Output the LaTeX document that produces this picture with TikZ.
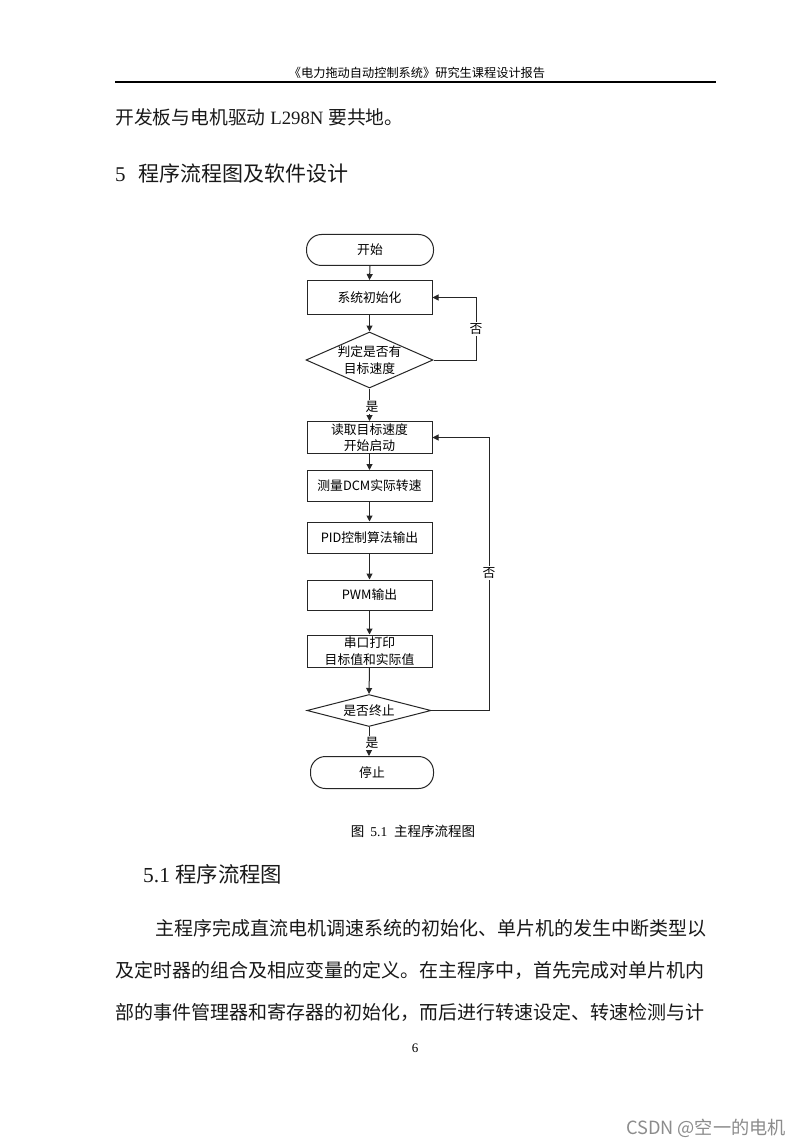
\documentclass[tikz,border=0pt]{standalone}
\usepackage{fontspec}
\setmainfont{Liberation Serif}
\newfontfamily\cjk{Noto Sans CJK SC}
\usetikzlibrary{shapes.geometric,arrows.meta}
\begin{document}
\begin{tikzpicture}[x=1pt,y=-1pt,
  flow/.style={draw=black!85, line width=1pt, font=\cjk\fontsize{12.8}{16.5}\selectfont, inner sep=0pt, align=center},
  box/.style={flow, rectangle, minimum width=125pt},
  term/.style={flow, rectangle, rounded corners=15pt, minimum height=31pt},
  dia/.style={flow, diamond, inner sep=0pt},
  arr/.style={draw=black!85, line width=1pt, -{Triangle[length=6pt,width=6pt]}},
  lbl/.style={font=\cjk\fontsize{12.8}{15}\selectfont, fill=white, inner sep=1pt},
  txt/.style={inner sep=0pt, anchor=west, text=black!90},
]
\useasboundingbox (0,0) rectangle (809,1147);
\fill[white] (0,0) rectangle (809,1147);

% header
\node[inner sep=0pt, font=\cjk\fontsize{12.2}{14}\selectfont] (hdr) at (417,73) {《电力拖动自动控制系统》研究生课程设计报告};
\draw[line width=1.1pt] (115,82) coordinate (rl) -- (716,82) coordinate (rr);

% body top
\node[txt, font=\fontsize{18.8}{22}\selectfont] (t1) at (115,117) {{\cjk 开发板与电机驱动} L298N {\cjk 要共地。}};
\node[txt, font=\fontsize{21}{24}\selectfont] (t2) at (115,174) {5\hspace{13pt}{\cjk 程序流程图及软件设计}};

% flowchart
\node[term, minimum width=127pt] (start) at (370,250) {开始};
\node[box, minimum height=34pt] (init) at (369.5,297.5) {系统初始化};
\node[dia, minimum width=127pt, minimum height=56pt] (judge) at (369.5,360) {};
\node[flow, draw=none] (judget) at (judge) {判定是否有\\目标速度};
\node[box, minimum height=32pt] (read) at (369.5,437.5) {读取目标速度\\开始启动};
\node[box, minimum height=31pt] (meas) at (369.5,486) {测量DCM实际转速};
\node[box, minimum height=31pt] (pid) at (369.5,537.5) {PID控制算法输出};
\node[box, minimum height=30pt] (pwm) at (369.5,595) {PWM输出};
\node[box, minimum height=32pt] (prt) at (369.5,651) {串口打印\\目标值和实际值};
\node[dia, minimum width=124pt, minimum height=32pt] (end) at (369,710.5) {};
\node[flow, draw=none] (endt) at (end) {是否终止};
\node[term, minimum width=123pt, minimum height=32pt] (stop) at (372,772.5) {停止};

\coordinate (lx1) at (476,0);
\coordinate (lx2) at (489,0);

\draw[arr] (start.south) -- (init.north);
\draw[arr] (init.south) -- (judge.north);
\draw[arr] (judge.south) -- (read.north);
\draw[arr] (read.south) -- (meas.north);
\draw[arr] (meas.south) -- (pid.north);
\draw[arr] (pid.south) -- (pwm.north);
\draw[arr] (pwm.south) -- (prt.north);
\draw[arr] (prt.south) -- (end.north);
\draw[arr] (end.south) -- (end.south |- stop.north);
\draw[arr] (judge.east) -- (judge.east -| lx1) |- (init.east);
\draw[arr] (end.east) -- (end.east -| lx2) |- (read.east);

\node[lbl] (y1) at (372,407) {是};
\node[lbl] (n1) at (476,329) {否};
\node[lbl] (y2) at (372,743) {是};
\node[lbl] (n2) at (489,573) {否};

% caption
\node[inner sep=0pt, font=\fontsize{13.5}{16}\selectfont] (cap) at (413,831) {{\cjk 图}\hspace{0.45em}5.1\hspace{0.5em}{\cjk 主程序流程图}};

% section
\node[txt, font=\fontsize{21.4}{24}\selectfont] (sec) at (143,874) {5.1 {\cjk 程序流程图}};

% paragraph
\node[txt, font=\cjk\fontsize{19}{22}\selectfont] (p1) at (155,928) {主程序完成直流电机调速系统的初始化、单片机的发生中断类型以};
\node[txt, font=\cjk\fontsize{19}{22}\selectfont] (p2) at (115,970) {及定时器的组合及相应变量的定义。在主程序中，首先完成对单片机内};
\node[txt, font=\cjk\fontsize{19}{22}\selectfont] (p3) at (115,1012) {部的事件管理器和寄存器的初始化，而后进行转速设定、转速检测与计};

% page number
\node[inner sep=0pt, font=\fontsize{13}{15}\selectfont] (pg) at (415,1048) {6};

% watermark
\node[inner sep=0pt, font=\cjk\fontsize{18.2}{20}\selectfont, text=black!45] (wm) at (706,1128) {CSDN @空一的电机};
\end{tikzpicture}
\end{document}
